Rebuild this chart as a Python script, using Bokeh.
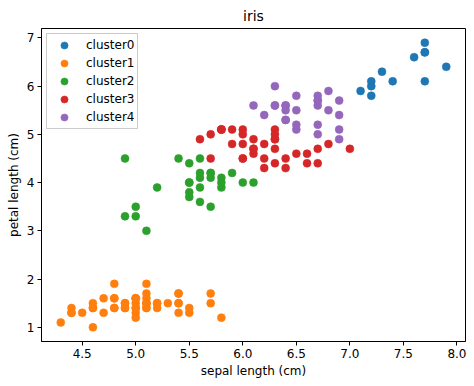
from bokeh.plotting import figure
from bokeh.models import Range1d, FixedTicker, Legend, LegendItem
from bokeh.embed import file_html
from bokeh.resources import INLINE

# cluster0
c0_sepal = [7.1, 7.6, 7.3, 7.2, 7.7, 7.7, 7.7, 7.2, 7.2, 7.4, 7.9, 7.7]
c0_petal = [5.9, 6.6, 6.3, 6.1, 6.7, 6.9, 6.7, 6.0, 5.8, 6.1, 6.4, 6.1]
# cluster1
c1_sepal = [5.1, 4.9, 4.7, 4.6, 5.0, 5.4, 4.6, 5.0, 4.4, 4.9, 5.4, 4.8, 4.8, 4.3, 5.8, 5.7, 5.4,
            5.1, 5.7, 5.1, 5.4, 5.1, 4.6, 5.1, 4.8, 5.0, 5.0, 5.2, 5.2, 4.7, 4.8, 5.4, 5.2, 5.5,
            4.9, 5.0, 5.5, 4.9, 4.4, 5.1, 5.0, 4.5, 4.4, 5.0, 5.1, 4.8, 5.1, 4.6, 5.3, 5.0]
c1_petal = [1.4, 1.4, 1.3, 1.5, 1.4, 1.7, 1.4, 1.5, 1.4, 1.5, 1.5, 1.6, 1.4, 1.1, 1.2, 1.5, 1.3,
            1.4, 1.7, 1.5, 1.7, 1.5, 1.0, 1.7, 1.9, 1.6, 1.6, 1.5, 1.4, 1.6, 1.6, 1.5, 1.5, 1.4,
            1.5, 1.2, 1.3, 1.4, 1.3, 1.5, 1.3, 1.3, 1.3, 1.6, 1.9, 1.4, 1.6, 1.4, 1.5, 1.4]
# cluster2
c2_sepal = [5.5, 4.9, 5.2, 5.0, 5.9, 6.0, 5.6, 5.6, 5.8, 5.6, 6.1, 5.7, 5.5, 5.5, 5.8, 5.4,
            5.6, 5.5, 5.5, 5.8, 5.0, 5.6, 5.7, 5.7, 5.1, 5.7, 4.9]
c2_petal = [4.0, 3.3, 3.9, 3.5, 4.2, 4.0, 3.6, 4.5, 4.1, 3.9, 4.0, 3.5, 3.8, 3.7, 3.9, 4.5,
            4.1, 4.0, 4.4, 4.0, 3.3, 4.2, 4.2, 4.2, 3.0, 4.1, 4.5]
# cluster3
c3_sepal = [7.0, 6.4, 6.5, 5.7, 6.3, 6.6, 6.1, 6.7, 6.2, 5.9, 6.3, 6.1, 6.4, 6.6, 6.8, 6.0,
            6.0, 6.0, 6.7, 6.3, 6.1, 6.2, 5.8, 5.7, 5.8, 6.0, 5.6, 6.3, 6.2, 6.1, 6.3, 6.0,
            5.8, 6.3, 5.9]
c3_petal = [4.7, 4.5, 4.6, 4.5, 4.7, 4.6, 4.7, 4.4, 4.5, 4.8, 4.9, 4.7, 4.3, 4.4, 4.8, 4.5,
            5.1, 4.5, 4.7, 4.4, 4.6, 4.3, 5.1, 5.0, 5.1, 5.0, 4.9, 4.9, 4.8, 4.9, 5.1, 4.8,
            5.1, 5.0, 5.1]
# cluster4
c4_sepal = [6.9, 6.7, 6.3, 6.3, 6.5, 6.7, 6.5, 6.4, 6.8, 6.4, 6.5, 6.9, 6.7, 6.4, 6.4, 6.1,
            6.3, 6.4, 6.9, 6.7, 6.9, 6.8, 6.7, 6.7, 6.5, 6.2]
c4_petal = [4.9, 5.0, 6.0, 5.6, 5.8, 5.8, 5.1, 5.3, 5.5, 5.3, 5.5, 5.7, 5.7, 5.6, 5.6, 5.6,
            5.6, 5.5, 5.4, 5.6, 5.1, 5.9, 5.7, 5.2, 5.2, 5.4]

labels = ["cluster0", "cluster1", "cluster2", "cluster3", "cluster4"]
colors = ["#1f77b4", "#ff7f0e", "#2ca02c", "#d62728", "#9467bd"]
x_ticks = [4.5, 5.0, 5.5, 6.0, 6.5, 7.0, 7.5, 8.0]
y_ticks = [1, 2, 3, 4, 5, 6, 7]

FONT = "DejaVu Sans"

p = figure(width=474, height=386, output_backend="svg", toolbar_location=None,
           x_range=Range1d(4.12, 8.08), y_range=Range1d(0.705, 7.195),
           title="iris", min_border_left=41, min_border_right=9,
           min_border_top=26, min_border_bottom=45)
p.title.align = "center"
p.title.text_font = FONT
p.title.text_font_size = "14px"
p.title.text_font_style = "normal"
p.title.text_color = "black"
p.title.standoff = 10
p.title.offset = 0

p.xgrid.visible = False
p.ygrid.visible = False
p.outline_line_color = "black"
p.outline_line_width = 1
p.outline_line_alpha = 1

for ax in (p.xaxis[0], p.yaxis[0]):
    ax.major_tick_in = 0
    ax.major_tick_out = 4
    ax.minor_tick_in = 0
    ax.minor_tick_out = 0
    ax.axis_line_color = "black"
    ax.major_tick_line_color = "black"
    ax.major_label_text_font = FONT
    ax.major_label_text_font_size = "12px"
    ax.major_label_text_color = "black"
    ax.axis_label_text_font = FONT
    ax.axis_label_text_font_size = "12px"
    ax.axis_label_text_font_style = "normal"
    ax.axis_label_text_color = "black"
    ax.major_label_standoff = 3
    ax.axis_label_standoff = 3

p.xaxis.ticker = FixedTicker(ticks=x_ticks)
p.yaxis.ticker = FixedTicker(ticks=y_ticks)
p.xaxis.major_label_overrides = {t: f"{t:.1f}" for t in x_ticks}
p.xaxis.axis_label = "sepal length (cm)"
p.yaxis.axis_label = "petal length (cm)"

data = [(c0_sepal, c0_petal), (c1_sepal, c1_petal), (c2_sepal, c2_petal),
        (c3_sepal, c3_petal), (c4_sepal, c4_petal)]
items = []
for (xs, ys), lab, col in zip(data, labels, colors):
    r = p.scatter(xs, ys, size=8, fill_color=col, line_color=col, line_width=0.5)
    items.append(LegendItem(label=lab, renderers=[r]))

legend = Legend(items=items, location="top_left")
legend.margin = 5
legend.padding = 2
legend.spacing = 0
legend.glyph_height = 18
legend.glyph_width = 30
legend.label_height = 18
legend.label_width = 49
legend.label_standoff = 7
legend.label_text_font = FONT
legend.label_text_font_size = "12px"
legend.label_text_color = "black"
legend.border_line_color = "#cccccc"
legend.border_line_alpha = 1
legend.background_fill_alpha = 0.8
p.add_layout(legend)

open("out.html", "w").write(file_html(p, INLINE))
